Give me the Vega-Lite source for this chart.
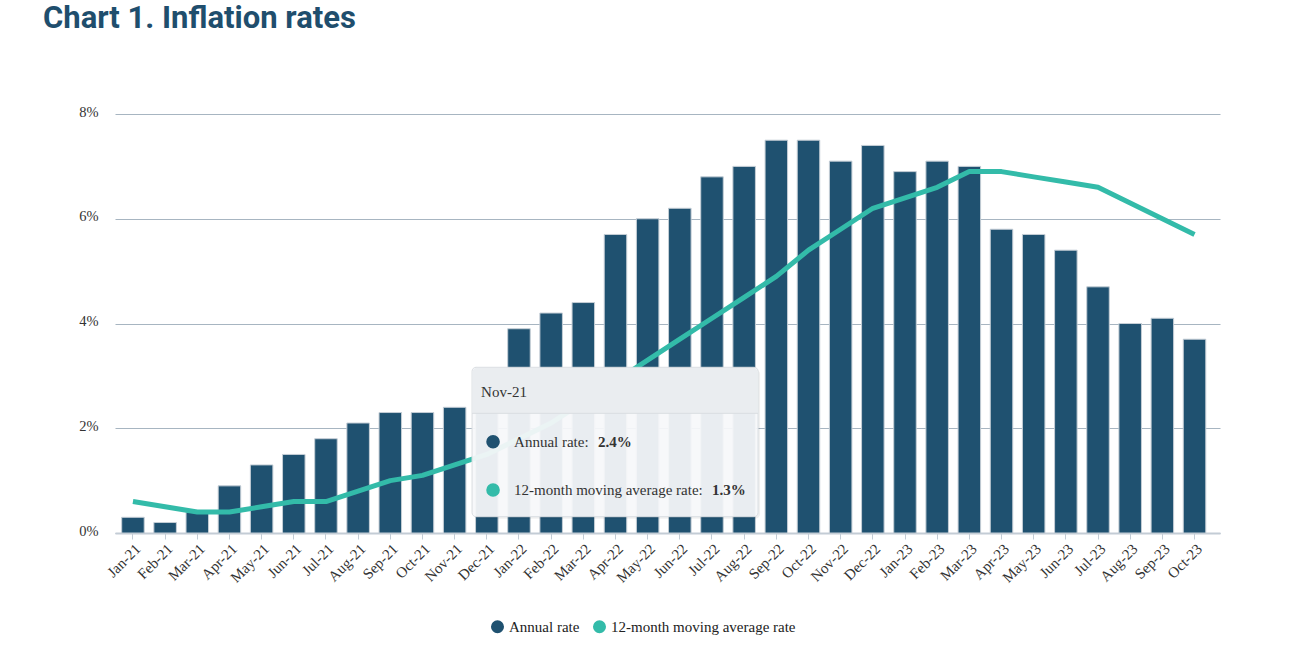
{
  "$schema": "https://vega.github.io/schema/vega-lite/v6.json",
  "width": 1105,
  "height": 419,
  "autosize": {"type": "none"},
  "padding": {"left": 115, "top": 114, "right": 86, "bottom": 112},
  "background": "white",
  "title": {"text": "Chart 1. Inflation rates", "anchor": "start", "frame": "group", "dx": -72, "offset": 69, "font": "Roboto", "fontWeight": "bold", "fontSize": 31, "color": "#1f4e6d"},
  "config": {"view": {"stroke": null}, "font": "Liberation Serif"},
  "data": {"values": [
    {"month": "Jan-21", "annual": 0.003, "avg": 0.006},
    {"month": "Feb-21", "annual": 0.002, "avg": 0.005},
    {"month": "Mar-21", "annual": 0.004, "avg": 0.004},
    {"month": "Apr-21", "annual": 0.009, "avg": 0.004},
    {"month": "May-21", "annual": 0.013, "avg": 0.005},
    {"month": "Jun-21", "annual": 0.015, "avg": 0.006},
    {"month": "Jul-21", "annual": 0.018, "avg": 0.006},
    {"month": "Aug-21", "annual": 0.021, "avg": 0.008},
    {"month": "Sep-21", "annual": 0.023, "avg": 0.010},
    {"month": "Oct-21", "annual": 0.023, "avg": 0.011},
    {"month": "Nov-21", "annual": 0.024, "avg": 0.013},
    {"month": "Dec-21", "annual": 0.030, "avg": 0.015},
    {"month": "Jan-22", "annual": 0.039, "avg": 0.018},
    {"month": "Feb-22", "annual": 0.042, "avg": 0.021},
    {"month": "Mar-22", "annual": 0.044, "avg": 0.025},
    {"month": "Apr-22", "annual": 0.057, "avg": 0.029},
    {"month": "May-22", "annual": 0.060, "avg": 0.033},
    {"month": "Jun-22", "annual": 0.062, "avg": 0.037},
    {"month": "Jul-22", "annual": 0.068, "avg": 0.041},
    {"month": "Aug-22", "annual": 0.070, "avg": 0.045},
    {"month": "Sep-22", "annual": 0.075, "avg": 0.049},
    {"month": "Oct-22", "annual": 0.075, "avg": 0.054},
    {"month": "Nov-22", "annual": 0.071, "avg": 0.058},
    {"month": "Dec-22", "annual": 0.074, "avg": 0.062},
    {"month": "Jan-23", "annual": 0.069, "avg": 0.064},
    {"month": "Feb-23", "annual": 0.071, "avg": 0.066},
    {"month": "Mar-23", "annual": 0.070, "avg": 0.069},
    {"month": "Apr-23", "annual": 0.058, "avg": 0.069},
    {"month": "May-23", "annual": 0.057, "avg": 0.068},
    {"month": "Jun-23", "annual": 0.054, "avg": 0.067},
    {"month": "Jul-23", "annual": 0.047, "avg": 0.066},
    {"month": "Aug-23", "annual": 0.040, "avg": 0.063},
    {"month": "Sep-23", "annual": 0.041, "avg": 0.060},
    {"month": "Oct-23", "annual": 0.037, "avg": 0.057}
  ]},
  "encoding": {
    "x": {
      "field": "month", "type": "nominal", "sort": null,
      "scale": {"paddingInner": 0.3, "paddingOuter": 0.325, "align": 0.32},
      "axis": {"title": null, "labelAngle": -45, "labelFont": "Liberation Serif", "labelFontSize": 15, "labelColor": "#333", "tickColor": "#c3ccd5", "tickSize": 6, "domainColor": "#c3ccd5", "domainWidth": 2, "labelPadding": 2, "grid": false}
    }
  },
  "layer": [
    {
      "mark": {"type": "bar", "stroke": "#c5ced6", "strokeWidth": 1},
      "encoding": {
        "y": {"field": "annual", "type": "quantitative", "scale": {"domain": [0, 0.08]},
          "axis": {"title": null, "format": ".0%", "values": [0, 0.02, 0.04, 0.06, 0.08], "labelFont": "Liberation Serif", "labelFontSize": 14.5, "labelColor": "#333", "ticks": false, "domain": false, "labelPadding": 17, "labelOffset": -2, "gridColor": "#a7b5c1", "gridWidth": 1}},
        "color": {"datum": "Annual rate", "type": "nominal",
          "scale": {"domain": ["Annual rate", "12-month moving average rate"], "range": ["#1f5170", "#33bba9"]},
          "legend": {"orient": "none", "legendX": 375, "legendY": 505, "direction": "horizontal", "title": null, "symbolType": "circle", "symbolSize": 170, "labelFont": "Liberation Serif", "labelFontSize": 15, "labelColor": "#222", "labelLimit": 400, "columnPadding": 12, "labelOffset": 4, "symbolStrokeWidth": 0, "symbolOpacity": 1,
            "encode": {"symbols": {"update": {"fill": {"scale": "color", "field": "value"}, "strokeWidth": {"value": 0}}}}}
        }
      }
    },
    {
      "mark": {"type": "line", "strokeWidth": 5, "strokeJoin": "round", "strokeCap": "butt"},
      "encoding": {
        "y": {"field": "avg", "type": "quantitative"},
        "color": {"datum": "12-month moving average rate", "type": "nominal"}
      }
    },
    {
      "transform": [{"filter": "datum.month === 'Nov-21'"}],
      "mark": {"type": "rect", "fill": "#000000", "fillOpacity": 0.06, "stroke": null, "cornerRadius": 5, "xOffset": -2, "x2Offset": -5, "yOffset": 2, "y2Offset": 2},
      "encoding": {
        "x": {"datum": "Dec-21", "bandPosition": 0},
        "x2": {"datum": "Sep-22", "bandPosition": 0},
        "y": {"datum": 0.03164, "type": "quantitative"},
        "y2": {"datum": 0.00311}
      }
    },
    {
      "transform": [{"filter": "datum.month === 'Nov-21'"}],
      "mark": {"type": "rect", "fill": "#f7f8fa", "fillOpacity": 0.94, "stroke": "#d9dde1", "strokeWidth": 1, "cornerRadius": 4, "xOffset": -3.5, "x2Offset": -7},
      "encoding": {
        "x": {"datum": "Dec-21", "bandPosition": 0},
        "x2": {"datum": "Sep-22", "bandPosition": 0},
        "y": {"datum": 0.03164, "type": "quantitative"},
        "y2": {"datum": 0.00311}
      }
    },
    {
      "transform": [{"filter": "datum.month === 'Nov-21'"}],
      "mark": {"type": "rect", "fill": "#eaedf0", "stroke": null, "cornerRadiusTopLeft": 4, "cornerRadiusTopRight": 4, "xOffset": -3, "x2Offset": -7.5},
      "encoding": {
        "x": {"datum": "Dec-21", "bandPosition": 0},
        "x2": {"datum": "Sep-22", "bandPosition": 0},
        "y": {"datum": 0.03150, "type": "quantitative"},
        "y2": {"datum": 0.02285}
      }
    },
    {
      "transform": [{"filter": "datum.month === 'Nov-21'"}],
      "mark": {"type": "rule", "stroke": "#d9dde1", "strokeWidth": 1, "xOffset": -3.5, "x2Offset": -7},
      "encoding": {
        "x": {"datum": "Dec-21", "bandPosition": 0},
        "x2": {"datum": "Sep-22", "bandPosition": 0},
        "y": {"datum": 0.02285, "type": "quantitative"}
      }
    },
    {
      "transform": [{"filter": "datum.month === 'Nov-21'"}],
      "mark": {"type": "text", "align": "left", "baseline": "middle", "dx": 5.5, "font": "Liberation Serif", "fontSize": 15, "color": "#333"},
      "encoding": {
        "x": {"datum": "Dec-21", "bandPosition": 0},
        "y": {"datum": 0.02698, "type": "quantitative"},
        "text": {"field": "month"}
      }
    },
    {
      "transform": [{"filter": "datum.month === 'Nov-21'"}],
      "mark": {"type": "point", "filled": true, "opacity": 1, "size": 185, "shape": "circle", "xOffset": 17.5},
      "encoding": {
        "x": {"datum": "Dec-21", "bandPosition": 0},
        "y": {"datum": 0.01743, "type": "quantitative"},
        "color": {"datum": "Annual rate", "type": "nominal"}
      }
    },
    {
      "transform": [{"filter": "datum.month === 'Nov-21'"}],
      "mark": {"type": "point", "filled": true, "opacity": 1, "size": 185, "shape": "circle", "xOffset": 17.5},
      "encoding": {
        "x": {"datum": "Dec-21", "bandPosition": 0},
        "y": {"datum": 0.00821, "type": "quantitative"},
        "color": {"datum": "12-month moving average rate", "type": "nominal"}
      }
    },
    {
      "transform": [{"filter": "datum.month === 'Nov-21'"}],
      "mark": {"type": "text", "align": "left", "baseline": "middle", "dx": 38.5, "font": "Liberation Serif", "fontSize": 15, "color": "#333", "text": "Annual rate:"},
      "encoding": {
        "x": {"datum": "Dec-21", "bandPosition": 0},
        "y": {"datum": 0.01743, "type": "quantitative"}
      }
    },
    {
      "transform": [{"filter": "datum.month === 'Nov-21'"}],
      "mark": {"type": "text", "align": "left", "baseline": "middle", "dx": 122.5, "font": "Liberation Serif", "fontSize": 15, "fontWeight": "bold", "color": "#333"},
      "encoding": {
        "x": {"datum": "Dec-21", "bandPosition": 0},
        "y": {"datum": 0.01743, "type": "quantitative"},
        "text": {"field": "annual", "format": ".1%"}
      }
    },
    {
      "transform": [{"filter": "datum.month === 'Nov-21'"}],
      "mark": {"type": "text", "align": "left", "baseline": "middle", "dx": 38.5, "font": "Liberation Serif", "fontSize": 15, "color": "#333", "text": "12-month moving average rate:"},
      "encoding": {
        "x": {"datum": "Dec-21", "bandPosition": 0},
        "y": {"datum": 0.00821, "type": "quantitative"}
      }
    },
    {
      "transform": [{"filter": "datum.month === 'Nov-21'"}],
      "mark": {"type": "text", "align": "left", "baseline": "middle", "dx": 236.5, "font": "Liberation Serif", "fontSize": 15, "fontWeight": "bold", "color": "#333"},
      "encoding": {
        "x": {"datum": "Dec-21", "bandPosition": 0},
        "y": {"datum": 0.00821, "type": "quantitative"},
        "text": {"field": "avg", "format": ".1%"}
      }
    }
  ]
}
